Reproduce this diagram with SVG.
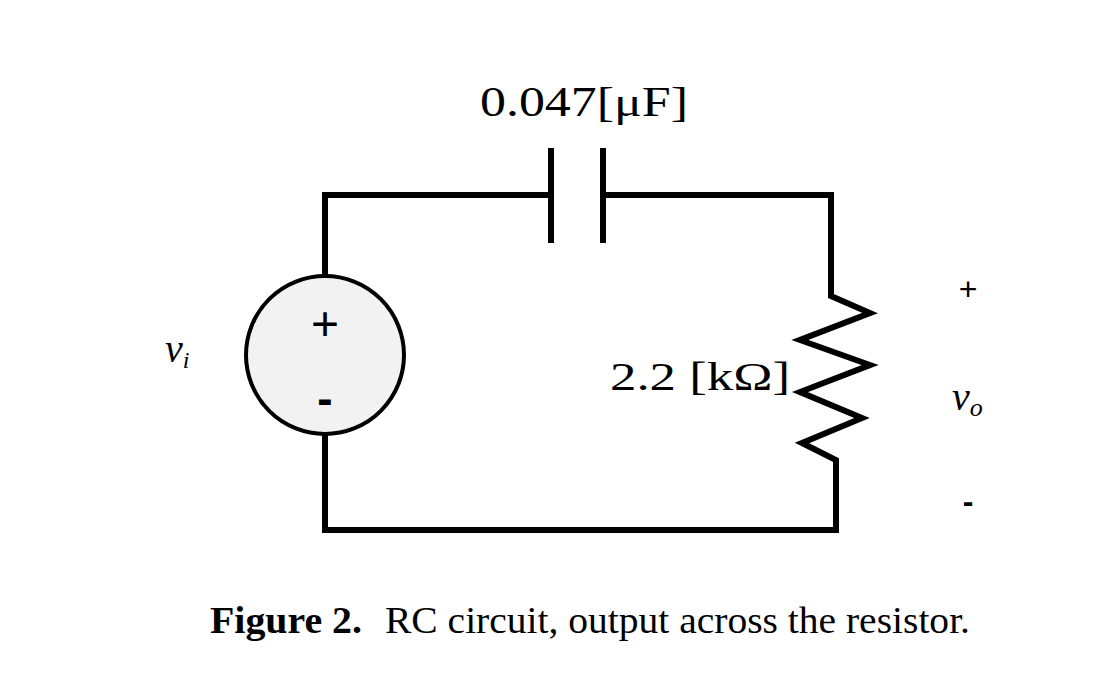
<svg xmlns="http://www.w3.org/2000/svg" width="1120" height="696" viewBox="0 0 1120 696">
<style>
.w{fill:none;stroke:#000;stroke-width:6;stroke-linejoin:miter}
.t{font-family:"Liberation Serif",serif;fill:#000}
</style>
<rect width="1120" height="696" fill="#fff"/>
<g id="connectors">
<polyline class="w" points="551,195 325,195 325,277"/>
<polyline class="w" points="603,195 831,195 831,295"/>
<polyline class="w" points="325,433 325,530 836,530 836,460"/>
</g>
<g id="capacitor">
<line class="w" x1="551" y1="148" x2="551" y2="243"/>
<line class="w" x1="603" y1="148" x2="603" y2="243"/>
<text class="t" x="480" y="116" font-size="42" textLength="208" lengthAdjust="spacingAndGlyphs">0.047[μF]</text>
</g>
<g id="resistor">
<polyline class="w" points="831,292 831,296 870,313 800,340 870,365 800,392 862,418 802,443 836,460 836,464"/>
<text class="t" x="610" y="390" font-size="40" textLength="180" lengthAdjust="spacingAndGlyphs">2.2 [kΩ]</text>
</g>
<g id="source">
<circle cx="325" cy="355" r="79" fill="#f2f2f2" stroke="#000" stroke-width="4"/>
<text x="325" y="340" font-family="Liberation Sans,sans-serif" font-size="48" text-anchor="middle">+</text>
<text x="325" y="414" font-family="Liberation Sans,sans-serif" font-size="46" font-weight="bold" text-anchor="middle">-</text>
<text class="t" x="165" y="362" font-size="40" font-style="italic">v<tspan font-size="24" dy="6">i</tspan></text>
</g>
<g id="output">
<text x="968" y="300" font-family="Liberation Sans,sans-serif" font-size="32" text-anchor="middle">+</text>
<text class="t" x="952" y="410" font-size="40" font-style="italic">v<tspan font-size="26" dy="6">o</tspan></text>
<text x="968" y="512" font-family="Liberation Sans,sans-serif" font-size="32" font-weight="bold" text-anchor="middle">-</text>
</g>
<text class="t" x="210" y="633" font-size="38" font-weight="bold" textLength="152" lengthAdjust="spacingAndGlyphs">Figure 2.</text>
<text class="t" x="385" y="633" font-size="38" textLength="585" lengthAdjust="spacingAndGlyphs">RC circuit, output across the resistor.</text>
</svg>
